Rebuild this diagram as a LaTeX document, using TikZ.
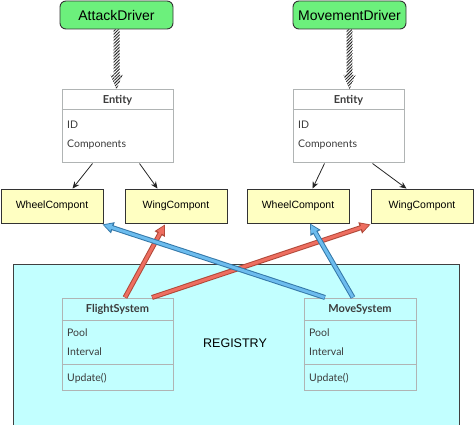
\documentclass[tikz,border=0pt]{standalone}
\usepackage{fontspec}
\setmainfont{Liberation Sans}
\newfontfamily\uml{Lato}
\usetikzlibrary{arrows.meta,patterns.meta}
\definecolor{drvgreen}{HTML}{6CF07C}
\definecolor{compyellow}{HTML}{FFFFC2}
\definecolor{regcyan}{HTML}{C2FFFF}
\definecolor{umlgray}{HTML}{B0B4B4}
\definecolor{umltext}{HTML}{3C3C3C}
\definecolor{redfill}{HTML}{EE6E60}
\definecolor{redline}{HTML}{B04838}
\definecolor{bluefill}{HTML}{6CBCEE}
\definecolor{blueline}{HTML}{3478A8}
\tikzset{
  driver/.style={draw=black!80, fill=drvgreen, rounded corners=6pt, line width=0.9pt,
    minimum width=113pt, minimum height=28pt, inner sep=0pt, font=\fontsize{14}{16}\selectfont},
  comp/.style={draw=black!80, fill=compyellow, line width=0.8pt,
    minimum width=102pt, minimum height=34pt, inner sep=0pt, font=\fontsize{10.5}{12}\selectfont},
  umlbox/.style={draw=umlgray, line width=1pt, inner sep=0pt},
  umltitle/.style={font=\uml\bfseries\fontsize{11}{12}\selectfont, text=umltext, inner sep=0pt},
  umlfield/.style={font=\uml\fontsize{10.5}{12}\selectfont, text=umltext, inner sep=0pt, anchor=west},
  umlsep/.style={draw=umlgray, line width=1pt},
  thinarrow/.style={draw=black!85, line width=0.8pt, -{Stealth[length=7pt,width=6pt]}},
  hatcharrow/.style={pattern={Lines[angle=45,distance=2.2pt,line width=0.9pt]}, pattern color=black!85, draw=none},
}
\newcommand{\fatarrow}[4]{%
  \draw[line width=5pt, draw=#4, -{Triangle[length=11pt,width=11pt]}] (#1) -- (#2);
  \draw[line width=3pt, draw=#3, -{Triangle[length=8pt,width=7.5pt]}, shorten >=1.6pt, shorten <=0.5pt] (#1) -- (#2);}
\begin{document}
\begin{tikzpicture}[x=1pt,y=-1pt]
\useasboundingbox (0,0) rectangle (474,425);
% registry
\node[draw=black!75, fill=regcyan, line width=0.9pt, minimum width=446pt, minimum height=166pt, inner sep=0pt] (reg) at (236,347) {};
\node[font=\fontsize{12.5}{14}\selectfont] (regl) at (235,343) {REGISTRY};
% drivers
\node[driver] (ad) at (116.5,15) {AttackDriver};
\node[driver] (md) at (349.5,15) {MovementDriver};
% entity boxes
\node[umlbox, fill=white, minimum width=111pt, minimum height=73pt] (e1) at (117.5,126.5) {};
\node[umlbox, fill=white, minimum width=111pt, minimum height=73pt] (e2) at (348.5,126.5) {};
\draw[umlsep] ([yshift=-20pt]e1.north west) -- ([yshift=-20pt]e1.north east);
\draw[umlsep] ([yshift=-20pt]e2.north west) -- ([yshift=-20pt]e2.north east);
\node[umltitle] (e1t) at (117.5,100.5) {Entity};
\node[umlfield] (e1a) at (67,125) {ID};
\node[umlfield] (e1b) at (67,145) {Components};
\node[umltitle] (e2t) at (348.5,100.5) {Entity};
\node[umlfield] (e2a) at (298,125) {ID};
\node[umlfield] (e2b) at (298,145) {Components};
% hatched arrows
\coordinate (h1s) at (ad.south);
\coordinate (h2s) at (md.south);
\fill[hatcharrow] ([xshift=-3pt]h1s) -- ([xshift=3pt]h1s) -- ([xshift=3pt]h1s |- 0,75) -- ([xshift=6pt]h1s |- 0,75) -- (h1s |- e1.north) -- ([xshift=-6pt]h1s |- 0,75) -- ([xshift=-3pt]h1s |- 0,75) -- cycle;
\fill[hatcharrow] ([xshift=-3pt]h2s) -- ([xshift=3pt]h2s) -- ([xshift=3pt]h2s |- 0,75) -- ([xshift=6pt]h2s |- 0,75) -- (h2s |- e2.north) -- ([xshift=-6pt]h2s |- 0,75) -- ([xshift=-3pt]h2s |- 0,75) -- cycle;
% components
\node[comp] (w1) at (52,206) {WheelCompont};
\node[comp] (g1) at (176,206) {WingCompont};
\node[comp] (w2) at (298,206) {WheelCompont};
\node[comp] (g2) at (422,206) {WingCompont};
% entity -> component arrows
\draw[thinarrow] ([xshift=-25pt]e1.south) -- ([xshift=-45pt]e1.south |- w1.north);
\draw[thinarrow] ([xshift=22pt]e1.south) -- ([xshift=40pt]e1.south |- g1.north);
\draw[thinarrow] ([xshift=-24pt]e2.south) -- ([xshift=-36pt]e2.south |- w2.north);
\draw[thinarrow] ([xshift=24pt]e2.south) -- ([xshift=58pt]e2.south |- g2.north);
% systems
\node[umlbox, fill=regcyan, minimum width=111pt, minimum height=92pt] (fs) at (117.5,344) {};
\node[umlbox, fill=regcyan, minimum width=112pt, minimum height=92pt] (ms) at (360,344) {};
\draw[umlsep] ([yshift=-23pt]fs.north west) -- ([yshift=-23pt]fs.north east);
\draw[umlsep] ([yshift=-67pt]fs.north west) -- ([yshift=-67pt]fs.north east);
\draw[umlsep] ([yshift=-23pt]ms.north west) -- ([yshift=-23pt]ms.north east);
\draw[umlsep] ([yshift=-67pt]ms.north west) -- ([yshift=-67pt]ms.north east);
\node[umltitle] (fst) at (117.5,309.5) {FlightSystem};
\node[umlfield] (fsa) at (67,333) {Pool};
\node[umlfield] (fsb) at (67,352) {Interval};
\node[umlfield] (fsc) at (67,378) {Update()};
\node[umltitle] (mst) at (360,309.5) {MoveSystem};
\node[umlfield] (msa) at (309,333) {Pool};
\node[umlfield] (msb) at (309,352) {Interval};
\node[umlfield] (msc) at (309,378) {Update()};
% fat arrows
\coordinate (r1s) at ([xshift=7.5pt]fs.north);
\coordinate (r1e) at ([xshift=-11pt,yshift=-1pt]g1.south);
\coordinate (r2s) at ([xshift=34.5pt]fs.north);
\coordinate (r2e) at ([yshift=-1pt]g2.south west);
\coordinate (b1s) at ([xshift=-35pt]ms.north);
\coordinate (b1e) at ([xshift=-1pt,yshift=-1pt]w1.south east);
\coordinate (b2s) at ([xshift=-7pt]ms.north);
\coordinate (b2e) at ([xshift=12pt]w2.south);
\fatarrow{r1s}{r1e}{redfill}{redline}
\fatarrow{r2s}{r2e}{redfill}{redline}
\fatarrow{b1s}{b1e}{bluefill}{blueline}
\fatarrow{b2s}{b2e}{bluefill}{blueline}
\end{tikzpicture}
\end{document}
